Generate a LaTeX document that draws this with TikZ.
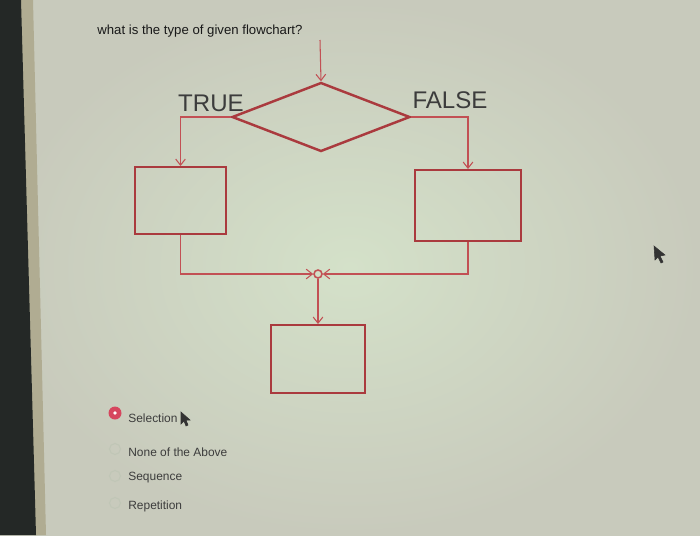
\documentclass[tikz,border=0pt]{standalone}
\usepackage{fontspec}
\setmainfont{Liberation Sans}
\usetikzlibrary{shapes.geometric,arrows.meta}

\definecolor{linered}{RGB}{194,80,84}
\definecolor{boxred}{RGB}{170,58,62}
\definecolor{bgmid}{RGB}{212,225,201}
\definecolor{bgout}{RGB}{200,202,188}
\definecolor{darkside}{RGB}{36,40,38}
\definecolor{tanside}{RGB}{176,172,146}
\definecolor{labgray}{RGB}{60,60,60}
\definecolor{radiored}{RGB}{214,70,94}
\definecolor{faintradio}{RGB}{192,198,182}

\begin{document}
\begin{tikzpicture}[x=0.02cm, y=-0.02cm,
    flowbox/.style={draw=boxred, line width=1.1pt, rectangle, inner sep=0pt},
    decision/.style={draw=boxred, line width=1.4pt, diamond, inner sep=0pt,
        minimum width=3.56cm, minimum height=1.38cm},
    conn/.style={draw=linered, line width=0.6pt,
        -{Straight Barb[length=3.5pt,width=5.5pt]}},
    branch/.style={font=\fontsize{13.7}{15}\selectfont, text=labgray, inner sep=0pt},
    option/.style={font=\fontsize{6.8}{8}\selectfont, text=labgray, anchor=west, inner sep=0pt},
    pointer/.style={fill=black!80, draw=black!80, line width=0.3pt}]
    \useasboundingbox (0,0) rectangle (700,535);

    % screen background and the edge of the monitor
    \shade[inner color=bgmid, outer color=bgout] (0,0) rectangle (700,535);
    \fill[tanside] (20,0) -- (33,0) -- (46,535) -- (34,535) -- cycle;
    \fill[darkside] (0,0) -- (21,0) -- (36,535) -- (0,535) -- cycle;

    % question
    \node[anchor=west, inner sep=0pt, font=\fontsize{7.5}{8}\selectfont, text=black!90]
        (question) at (97,31) {what is the type of given flowchart?};

    % flowchart
    \coordinate (start) at (320,40);
    \node[decision] (dec) at (321,117) {};
    \node[flowbox, minimum width=1.82cm, minimum height=1.34cm] (lbox) at (180.5,200.5) {};
    \node[flowbox, minimum width=2.12cm, minimum height=1.42cm] (rbox) at (468,205.5) {};
    \node[draw=linered, line width=0.9pt, circle, inner sep=0pt, minimum size=0.16cm] (junc) at (318,274) {};
    \node[flowbox, minimum width=1.88cm, minimum height=1.36cm] (bbox) at (318,359) {};

    \node[branch] (true) at (211,103) {TRUE};
    \node[branch] (false) at (450,100) {FALSE};

    \draw[conn] (start) -- (dec.north);
    \draw[conn] (dec.west) -| (lbox.north);
    \draw[conn] (dec.east) -| (rbox.north);
    \draw[conn] (lbox.south) |- (junc.west);
    \draw[conn] (rbox.south) |- (junc.east);
    \draw[conn] (junc.south) -- (bbox.north);

    % answers
    \fill[radiored] (115,413) circle (6.5);
    \fill[white] (115,413) circle (1.8);
    \draw[faintradio, line width=0.6pt] (115,449) circle (5.5);
    \draw[faintradio, line width=0.6pt] (115,476) circle (5.5);
    \draw[faintradio, line width=0.6pt] (115,503) circle (5.5);

    \node[option] (sel) at (128,418) {Selection};
    \node[option] (none) at (128,452) {None of the Above};
    \node[option] (seq) at (128,478) {Sequence};
    \node[option] (rep) at (128,506) {Repetition};

    % mouse pointers
    \draw[pointer] (181,412) -- (181,424) -- (184,421) -- (186,426) -- (188,425) -- (186,420) -- (190,420) -- cycle;
    \draw[pointer] (654,246) -- (655,260) -- (658,257) -- (661,263) -- (663,262) -- (660,256) -- (665,255) -- cycle;
\end{tikzpicture}
\end{document}
